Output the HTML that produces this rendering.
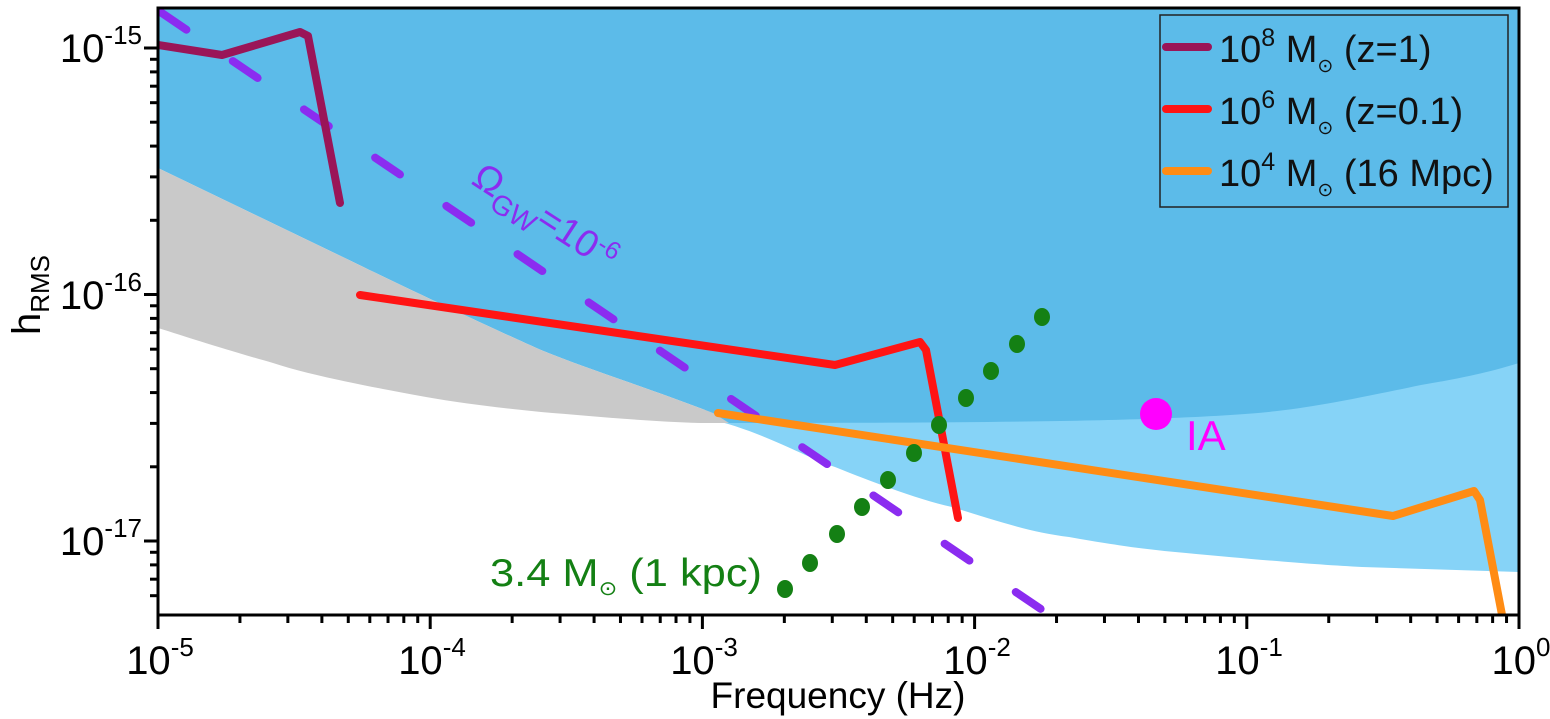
<!DOCTYPE html>
<html><head><meta charset="utf-8"><style>
html,body{margin:0;padding:0;background:#fff;width:1550px;height:719px;overflow:hidden}
svg text{font-family:"Liberation Sans",Arial,sans-serif}
</style></head><body>
<svg id="s" width="1550" height="719" viewBox="0 0 1550 719" xmlns="http://www.w3.org/2000/svg">
<defs><clipPath id="c"><rect x="158" y="8" width="1361" height="607"/></clipPath></defs>
<g clip-path="url(#c)">
<rect x="158" y="8" width="1361" height="607" fill="#fff"/>
<path d="M705,418 C760,430 800,455 835,467 C880,485 920,500 952,507 C1000,522 1030,532 1069,537 C1120,546 1150,550 1186,553 C1260,560 1320,565 1362,567 L1519,572 L1519,300 L700,300 Z" fill="#86d3f7"/>
<path d="M158,8 L1519,8 L1519,363 C1480,375 1450,380 1421,385 C1340,402 1300,410 1245,414 C1150,421 1000,423 729,423 L713,413 C640,385 590,370 541,350 C500,332 400,285 349,260 L158,168 Z" fill="#5cbbe9"/>
<path d="M158,168 L349,260 C400,285 500,332 541,350 C590,370 640,385 713,413 L729,423 L700,423 C640,421 590,416 541,412 C500,408 460,403 426,397 C360,385 310,375 273,363 C220,348 190,338 158,328 Z" fill="#c9c9c9"/>
<line x1="150" y1="5" x2="1060" y2="622" stroke="#8b2cf0" stroke-width="8" stroke-linecap="round" stroke-dasharray="30,56" stroke-dashoffset="72"/>
<polyline points="158,45 222,55 300,32 308,36 340,203" fill="none" stroke="#9a1558" stroke-width="8" stroke-linejoin="round" stroke-linecap="round"/>
<polyline points="360,295 835,365 920,342 926,350 958,518" fill="none" stroke="#ff1414" stroke-width="8" stroke-linejoin="round" stroke-linecap="round"/>
<polyline points="718,413 1393,516 1474,491 1480,500 1503,620" fill="none" stroke="#ff8c14" stroke-width="8" stroke-linejoin="round" stroke-linecap="round"/>
<g fill="#148014">
<ellipse cx="785" cy="589" rx="8" ry="9"/><ellipse cx="810" cy="563" rx="8" ry="9"/><ellipse cx="837" cy="534" rx="8" ry="9"/><ellipse cx="862" cy="507" rx="8" ry="9"/><ellipse cx="888" cy="480" rx="8" ry="9"/><ellipse cx="914" cy="453" rx="8" ry="9"/><ellipse cx="939" cy="425" rx="8" ry="9"/><ellipse cx="966" cy="398" rx="8" ry="9"/><ellipse cx="991" cy="371" rx="8" ry="9"/><ellipse cx="1017" cy="344" rx="8" ry="9"/><ellipse cx="1042" cy="317" rx="8" ry="9"/>
</g>
<circle cx="1156" cy="414" r="16" fill="#ff00ff"/>
</g>
<text x="1186" y="450" font-size="42" fill="#ff00ff">IA</text>
<text transform="translate(470,183) rotate(33)" font-size="38" fill="#8b2cf0">Ω<tspan font-size="28" dy="11">GW</tspan><tspan dy="-11">=10</tspan><tspan font-size="25" dy="-13">-6</tspan></text>
<text x="490" y="586" font-size="39" fill="#148014" textLength="272" lengthAdjust="spacingAndGlyphs">3.4 M<tspan font-size="20" dy="9">⊙</tspan><tspan dy="-9"> (1 kpc)</tspan></text>
<rect x="1160" y="15" width="348" height="192" fill="none" stroke="#222" stroke-width="1.5"/>
<line x1="1166" y1="47" x2="1208" y2="47" stroke="#9a1558" stroke-width="8" stroke-linecap="round"/>
<line x1="1166" y1="109" x2="1208" y2="109" stroke="#ff1414" stroke-width="8" stroke-linecap="round"/>
<line x1="1166" y1="171" x2="1208" y2="171" stroke="#ff8c14" stroke-width="8" stroke-linecap="round"/>
<g font-size="38" fill="#111">
<text x="1219" y="62">10<tspan font-size="25" dy="-16">8</tspan><tspan dy="16"> M</tspan><tspan font-size="19" dy="10">⊙</tspan><tspan dy="-10"> (z=1)</tspan></text>
<text x="1219" y="124">10<tspan font-size="25" dy="-16">6</tspan><tspan dy="16"> M</tspan><tspan font-size="19" dy="10">⊙</tspan><tspan dy="-10"> (z=0.1)</tspan></text>
<text x="1219" y="186">10<tspan font-size="25" dy="-16">4</tspan><tspan dy="16"> M</tspan><tspan font-size="19" dy="10">⊙</tspan><tspan dy="-10"> (16 Mpc)</tspan></text>
</g>
<rect x="158" y="8" width="1361" height="607" fill="none" stroke="#000" stroke-width="3"/>
<g id="ticks" stroke="#000" stroke-width="3"></g>
<g font-size="40" fill="#000">
<text x="160" y="674" text-anchor="middle">10<tspan font-size="26" dy="-18">-5</tspan></text>
<text x="432" y="674" text-anchor="middle">10<tspan font-size="26" dy="-18">-4</tspan></text>
<text x="704" y="674" text-anchor="middle">10<tspan font-size="26" dy="-18">-3</tspan></text>
<text x="977" y="674" text-anchor="middle">10<tspan font-size="26" dy="-18">-2</tspan></text>
<text x="1249" y="674" text-anchor="middle">10<tspan font-size="26" dy="-18">-1</tspan></text>
<text x="1521" y="674" text-anchor="middle">10<tspan font-size="26" dy="-18">0</tspan></text>
<text x="142" y="62" text-anchor="end">10<tspan font-size="26" dy="-18">-15</tspan></text>
<text x="142" y="309" text-anchor="end">10<tspan font-size="26" dy="-18">-16</tspan></text>
<text x="142" y="555" text-anchor="end">10<tspan font-size="26" dy="-18">-17</tspan></text>
</g>
<text x="838" y="708" font-size="37" text-anchor="middle">Frequency (Hz)</text>
<text transform="translate(40,335) rotate(-90)" font-size="40">h<tspan font-size="26" dy="9">RMS</tspan></text>
</svg>
<script>
var g=document.getElementById('ticks'),h='';
for(var d=0;d<5;d++){for(var k=1;k<10;k++){var x=158+272.2*(d+Math.log10(k));var L=k==1?14:8;h+='<line x1="'+x+'" y1="615" x2="'+x+'" y2="'+(615+L)+'"/>';}}
h+='<line x1="1519" y1="615" x2="1519" y2="629"/>';
for(var d=-18;d<-14;d++){for(var k=1;k<10;k++){var v=d+Math.log10(k);var y=541-(v+17)*246.5;if(y<8||y>615)continue;var L=k==1?14:8;h+='<line x1="158" y1="'+y+'" x2="'+(158-L)+'" y2="'+y+'"/>';}}
g.innerHTML=h;
</script>
</body></html>
